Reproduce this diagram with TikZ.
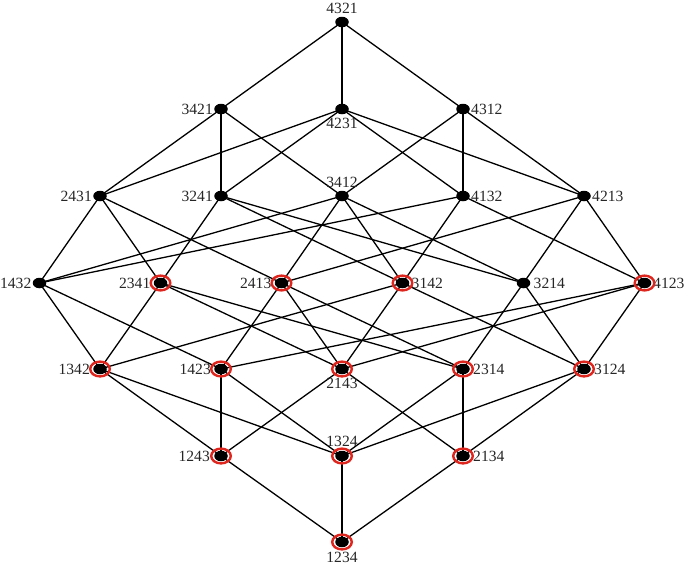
\documentclass[tikz,border=0pt]{standalone}
\usepackage{fontspec}
\setmainfont{Liberation Serif}
\usetikzlibrary{shapes.geometric,backgrounds}
\definecolor{ringred}{RGB}{222,38,30}
\begin{document}
\begin{tikzpicture}[x=1pt,y=-1pt,
  dot/.style={ellipse,fill=black,inner sep=0pt,minimum width=13.5pt,minimum height=10.5pt},
  ring/.style={draw=ringred,line width=2.4pt},
  edge/.style={line width=1.3pt,black},
  lbl/.style={inner sep=0pt,text=black!85,font=\fontsize{15.6}{16}\selectfont}]
\useasboundingbox (0,0) rectangle (685,566);
% nodes
\node[dot] (n4321) at (342,22) {};
\node[dot] (n3421) at (221,109) {};
\node[dot] (n4231) at (342,109) {};
\node[dot] (n4312) at (463,109) {};
\node[dot] (n2431) at (100,196) {};
\node[dot] (n3241) at (221,196) {};
\node[dot] (n3412) at (342,196) {};
\node[dot] (n4132) at (463,196) {};
\node[dot] (n4213) at (584,196) {};
\node[dot] (n1432) at (39.5,283) {};
\node[dot] (n2341) at (160.5,283) {};
\node[dot] (n2413) at (281.5,283) {};
\node[dot] (n3142) at (402.5,283) {};
\node[dot] (n3214) at (523.5,283) {};
\node[dot] (n4123) at (644.5,283) {};
\node[dot] (n1342) at (100,369) {};
\node[dot] (n1423) at (221,369) {};
\node[dot] (n2143) at (342,369) {};
\node[dot] (n2314) at (463,369) {};
\node[dot] (n3124) at (584,369) {};
\node[dot] (n1243) at (221,456) {};
\node[dot] (n1324) at (342,456) {};
\node[dot] (n2134) at (463,456) {};
\node[dot] (n1234) at (342,542) {};
% edges
\begin{pgfonlayer}{background}
\foreach \a/\b in {4321/3421,4321/4231,4321/4312,
  3421/2431,3421/3241,3421/3412,
  4231/2431,4231/3241,4231/4132,4231/4213,
  4312/3412,4312/4132,4312/4213,
  2431/1432,2431/2341,2431/2413,
  3241/2341,3241/3142,3241/3214,
  3412/1432,3412/2413,3412/3142,3412/3214,
  4132/1432,4132/3142,4132/4123,
  4213/2413,4213/3214,4213/4123,
  1432/1342,1432/1423,
  2341/1342,2341/2143,2341/2314,
  2413/1423,2413/2143,2413/2314,
  3142/1342,3142/2143,3142/3124,
  3214/2314,3214/3124,
  4123/1423,4123/2143,4123/3124,
  1342/1243,1342/1324,
  1423/1243,1423/1324,
  2143/1243,2143/2134,
  2314/1324,2314/2134,
  3124/1324,3124/2134,
  1243/1234,1324/1234,2134/1234}
  \draw[edge] (n\a.center) -- (n\b.center);
\end{pgfonlayer}
% labels
\node[lbl,anchor=south] (t4321) at ([yshift=8.5pt]n4321.center) {4321};
\node[lbl,anchor=east] (t3421) at ([xshift=-8pt]n3421.center) {3421};
\node[lbl,anchor=north] (t4231) at ([yshift=-9pt]n4231.center) {4231};
\node[lbl,anchor=west] (t4312) at ([xshift=8pt]n4312.center) {4312};
\node[lbl,anchor=east] (t2431) at ([xshift=-8pt]n2431.center) {2431};
\node[lbl,anchor=east] (t3241) at ([xshift=-8pt]n3241.center) {3241};
\node[lbl,anchor=south] (t3412) at ([yshift=8.5pt]n3412.center) {3412};
\node[lbl,anchor=west] (t4132) at ([xshift=8pt]n4132.center) {4132};
\node[lbl,anchor=west] (t4213) at ([xshift=8pt]n4213.center) {4213};
\node[lbl,anchor=east] (t1432) at ([xshift=-8pt]n1432.center) {1432};
\node[lbl,anchor=east] (t2341) at ([xshift=-10pt]n2341.center) {2341};
\node[lbl,anchor=east] (t2413) at ([xshift=-10pt]n2413.center) {2413};
\node[lbl,anchor=west] (t3142) at ([xshift=9pt]n3142.center) {3142};
\node[lbl,anchor=west] (t3214) at ([xshift=10pt]n3214.center) {3214};
\node[lbl,anchor=west] (t4123) at ([xshift=8.5pt]n4123.center) {4123};
\node[lbl,anchor=east] (t1342) at ([xshift=-10pt]n1342.center) {1342};
\node[lbl,anchor=east] (t1423) at ([xshift=-10pt]n1423.center) {1423};
\node[lbl,anchor=north] (t2143) at ([yshift=-9pt]n2143.center) {2143};
\node[lbl,anchor=west] (t2314) at ([xshift=10pt]n2314.center) {2314};
\node[lbl,anchor=west] (t3124) at ([xshift=10pt]n3124.center) {3124};
\node[lbl,anchor=east] (t1243) at ([xshift=-11pt]n1243.center) {1243};
\node[lbl,anchor=south] (t1324) at ([yshift=9pt]n1324.center) {1324};
\node[lbl,anchor=west] (t2134) at ([xshift=10pt]n2134.center) {2134};
\node[lbl,anchor=north] (t1234) at ([yshift=-10pt]n1234.center) {1234};
% red rings
\foreach \n in {2341,2413,3142,4123,1342,1423,2143,2314,3124,1243,1324,2134,1234}
  \draw[ring] (n\n.center) ellipse [x radius=9.8pt, y radius=7.4pt];
\end{tikzpicture}
\end{document}
